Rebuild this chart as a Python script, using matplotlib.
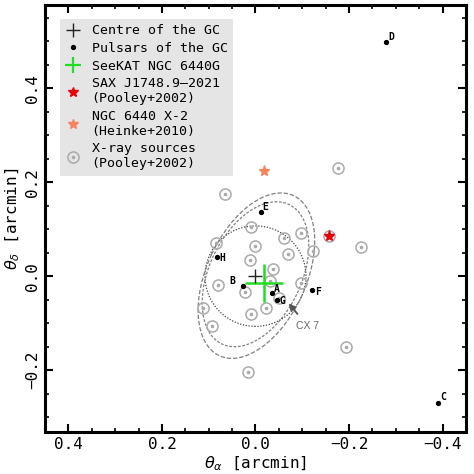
import numpy as np
import matplotlib
matplotlib.use("Agg")
import matplotlib.pyplot as plt
from matplotlib.patches import Ellipse
from matplotlib.lines import Line2D
from matplotlib.legend_handler import HandlerTuple

plt.rcParams['font.family'] = ['DejaVu Sans Mono', 'DejaVu Sans']
plt.rcParams['mathtext.fontset'] = 'dejavusans'

# pulsars of NGC 6440 (offsets from the GC centre, arcmin)
psr_names = ['A', 'B', 'C', 'D', 'E', 'F', 'G', 'H']
psr_x = [-0.036, 0.026, -0.390, -0.280, -0.011, -0.120, -0.045, 0.083]
psr_y = [-0.036, -0.021, -0.270, 0.498, 0.136, -0.030, -0.051, 0.040]

# X-ray sources (Pooley+2002)
xray_x = [-0.177, 0.066, 0.009, -0.060, -0.098, -0.158, 0.085, 0.002, -0.070,
          -0.124, 0.011, -0.038, -0.030, 0.081, 0.023, -0.098, -0.051, -0.023,
          0.113, 0.009, 0.092, -0.194, 0.015, -0.226]
xray_y = [0.230, 0.174, 0.104, 0.081, 0.091, 0.085, 0.070, 0.064, 0.047,
          0.053, 0.034, 0.015, -0.011, -0.019, -0.034, -0.015, -0.047, -0.068,
          -0.068, -0.081, -0.106, -0.151, -0.204, 0.062]

gc_centre = (0.0, 0.0)
seekat = (-0.019, -0.015)
sax = (-0.158, 0.085)
x2 = (-0.019, 0.223)

# beam / localisation ellipses: centre x, centre y, width, height, angle
ell_cx = [0.0, -0.002, 0.0]
ell_cy = [0.0, 0.001, 0.004]
ell_w = [0.216, 0.376, 0.330]
ell_h = [0.214, 0.212, 0.196]
ell_ang = [0, 115, 116]
ell_ls = [(0, (1, 1.3)), (0, (3.5, 1.5)), (0, (2.2, 1.3))]
ell_col = ['#444444', '#808080', '#808080']

cx7_tip = (-0.071, -0.058)
cx7_text = (-0.111, -0.106)

fig = plt.figure(figsize=(4.74, 4.74), dpi=100)
ax = fig.add_axes([0.095, 0.0886, 0.888, 0.9004])

for i in range(len(ell_cx)):
    e = Ellipse((ell_cx[i], ell_cy[i]), ell_w[i], ell_h[i], angle=ell_ang[i],
                fill=False, edgecolor=ell_col[i], linewidth=0.9, linestyle=ell_ls[i])
    ax.add_patch(e)

hx1, = ax.plot(xray_x, xray_y, 'o', mfc='none', mec='#aaaaaa', mew=1.1, ms=8, ls='none')
hx2, = ax.plot(xray_x, xray_y, 'o', color='#aaaaaa', ms=1.6, ls='none')

hs, = ax.plot(*sax, '*', color='#e8000b', ms=8, ls='none')
ho, = ax.plot(*x2, '*', color='#f4845f', ms=8, ls='none')

ax.plot(*seekat, '+', color='#22dd22', ms=27, mew=1.8)
ax.plot(*gc_centre, '+', color='#222222', ms=10, mew=1.0)

ax.plot(psr_x, psr_y, 'o', color='black', ms=2.8, ls='none')
offsets = {'A': (-0.004, 0.008), 'B': (0.030, 0.010), 'C': (-0.006, 0.012),
           'D': (-0.004, 0.012), 'E': (-0.004, 0.012), 'F': (-0.007, -0.003),
           'G': (-0.007, -0.002), 'H': (-0.006, -0.002)}
for n, x, y in zip(psr_names, psr_x, psr_y):
    dx, dy = offsets[n]
    ax.text(x + dx, y + dy, n, fontsize=7, fontweight='bold', ha='left', va='center')

ax.annotate('CX 7', xy=cx7_tip, xytext=cx7_text, fontsize=7.5, color='#666666',
            family='Liberation Sans', ha='center', va='center',
            arrowprops=dict(arrowstyle='-|>', color='#555555', lw=1.4,
                            mutation_scale=9, shrinkA=4, shrinkB=0))

ax.set_xlim(0.449, -0.449)
ax.set_ylim(-0.332, 0.577)
ax.set_xticks([0.4, 0.2, 0.0, -0.2, -0.4])
ax.set_yticks([-0.2, 0.0, 0.2, 0.4])
ax.set_xticks(np.arange(-0.45, 0.451, 0.05), minor=True)
ax.set_yticks(np.arange(-0.3, 0.551, 0.05), minor=True)
ax.tick_params(which='both', direction='in', top=True, right=True, labelsize=11.5)
ax.tick_params(which='major', length=6, width=1.5)
ax.tick_params(which='minor', length=3, width=1.2)
for lab in ax.get_yticklabels():
    lab.set_rotation(90)
    lab.set_va('center')
for s in ax.spines.values():
    s.set_linewidth(2.2)
ax.set_xlabel(r'$\theta_\alpha$ [arcmin]', fontsize=11.5, labelpad=2)
ax.set_ylabel(r'$\theta_\delta$ [arcmin]', fontsize=11.5, labelpad=2)

handles = [
    Line2D([], [], marker='+', color='#222222', ls='none', ms=10, mew=1.0),
    Line2D([], [], marker='o', color='black', ls='none', ms=2.8),
    Line2D([], [], marker='+', color='#22dd22', ls='none', ms=11, mew=1.6),
    Line2D([], [], marker='*', color='#e8000b', ls='none', ms=7),
    Line2D([], [], marker='*', color='#f4845f', ls='none', ms=7),
    (hx1, hx2),
]
labels = ['Centre of the GC', 'Pulsars of the GC', 'SeeKAT NGC 6440G',
          'SAX J1748.9\u20132021\n(Pooley+2002)', 'NGC 6440 X-2\n(Heinke+2010)',
          'X-ray sources\n(Pooley+2002)']
leg = ax.legend(handles, labels, loc='upper left', fontsize=9.5, frameon=True,
                fancybox=False, facecolor='#e5e5e5', edgecolor='none', framealpha=1,
                handler_map={tuple: HandlerTuple(ndivide=1)}, handlelength=1.2,
                handletextpad=0.8, labelspacing=0.35, borderpad=0.4,
                bbox_to_anchor=(0.02, 0.983))

fig.savefig('out.png', dpi=100)
